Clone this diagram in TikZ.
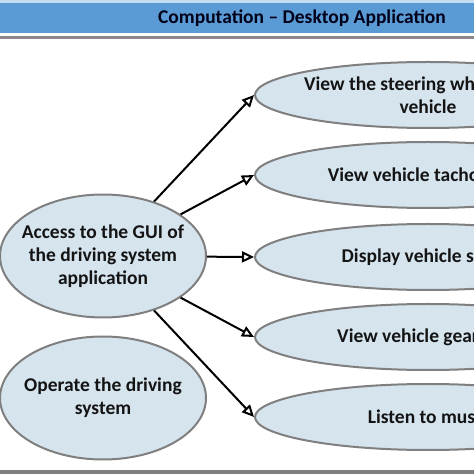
\documentclass[tikz,border=0pt]{standalone}
\usepackage{fontspec}
\setmainfont{Carlito}
\usetikzlibrary{shapes.geometric,arrows.meta}
\definecolor{barblue}{HTML}{5B9BD5}
\definecolor{barlight}{HTML}{C5DDF0}
\definecolor{linegray}{HTML}{8C8890}
\definecolor{ellfill}{HTML}{D6E4EE}
\definecolor{ellline}{HTML}{7F7F7F}
\definecolor{txt}{HTML}{141414}
\tikzset{
  usecase/.style={ellipse, draw=ellline, fill=ellfill, line width=2pt, inner sep=0pt},
  leftcase/.style={usecase, minimum width=206pt, minimum height=123pt},
  rightcase/.style={usecase, minimum width=346pt, minimum height=66pt},
  casetext/.style={align=center, text=txt, inner sep=0pt, font=\bfseries\fontsize{19.5}{23}\selectfont},
  arr/.style={line width=2pt, -{Triangle[open, length=12pt, width=11pt, line width=2pt]}}
}
\begin{document}
\begin{tikzpicture}[x=1pt,y=1pt]
\useasboundingbox (0,0) rectangle (474,474);
\clip (0,0) rectangle (474,474);
% title bar
\fill[barlight] (0,471) rectangle (474,474);
\fill[barblue] (0,441) rectangle (474,471);
\fill[linegray] (0,435) rectangle (474,438);
\node[font=\bfseries\fontsize{19.5}{23}\selectfont, text=black!90!blue] (title) at (302,456) {Computation – Desktop Application};
% bottom bar
\fill[ellline] (0,0) rectangle (474,4);
% use cases
\node[leftcase] (acc) at (103,218) {};
\node[casetext] (acct) at (acc) {Access to the GUI of\\the driving system\\application};
\node[leftcase] (op) at (103,76) {};
\node[casetext] (opt) at (op) {Operate the driving\\system};
\node[rightcase] (r1) at (428,379) {};
\node[casetext] (r1t) at (r1) {View the steering wheel of the\\vehicle};
\node[rightcase] (r2) at (428,299) {};
\node[casetext] (r2t) at (r2) {View vehicle tachometer};
\node[rightcase] (r3) at (428,217) {};
\node[casetext] (r3t) at (r3) {Display vehicle speed};
\node[rightcase] (r4) at (428,137) {};
\node[casetext] (r4t) at (r4) {View vehicle gear shift};
\node[rightcase] (r5) at (428,57) {};
\node[casetext] (r5t) at (r5) {Listen to music};
% connectors
\draw[arr] (acc) -- (r1.west);
\draw[arr] (acc) -- (r2.west);
\draw[arr] (acc) -- (r3.west);
\draw[arr] (acc) -- (r4.west);
\draw[arr] (acc) -- (r5.west);
\end{tikzpicture}
\end{document}
